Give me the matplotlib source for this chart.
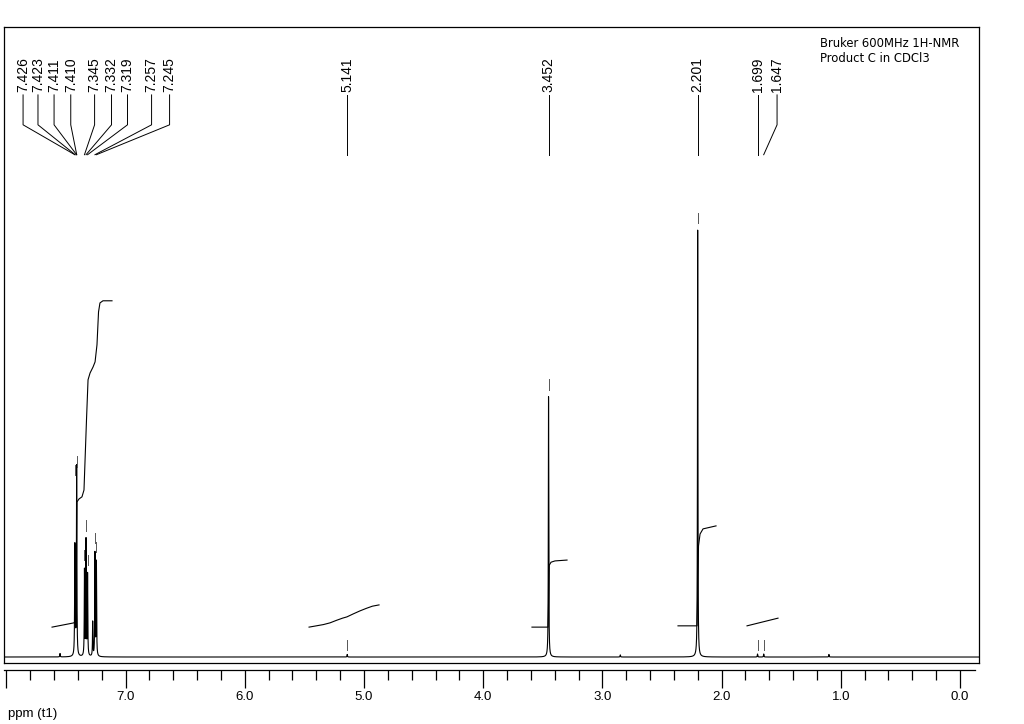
import numpy as np
import matplotlib
matplotlib.use("Agg")
import matplotlib.pyplot as plt

plt.rcParams['font.family'] = ['Liberation Sans', 'DejaVu Sans']

# peak list: position (ppm) and height (2.201 singlet = 100)
peak_ppm = [7.426, 7.423, 7.411, 7.410, 7.345, 7.332, 7.319, 7.276, 7.257, 7.245,
            7.55, 5.141, 3.452, 2.85, 2.201, 1.699, 1.647, 1.10]
peak_height = [20, 18, 25, 22, 20, 27, 19, 8, 24, 22,
               0.8, 0.6, 61, 0.5, 100, 0.7, 0.7, 0.6]
hwhm = 0.002

# picked peaks (labels at the top)
label_ppm = [7.426, 7.423, 7.411, 7.410, 7.345, 7.332, 7.319, 7.257, 7.245,
             5.141, 3.452, 2.201, 1.699, 1.647]
label_text = ['7.426', '7.423', '7.411', '7.410', '7.345', '7.332', '7.319', '7.257', '7.245',
              '5.141', '3.452', '2.201', '1.699', '1.647']
# where each label sits along the ppm axis
label_pos = [7.860, 7.735, 7.600, 7.460, 7.260, 7.118, 6.984, 6.782, 6.631,
             5.141, 3.452, 2.201, 1.699, 1.535]
# marker heights above the picked peaks
marker_ppm = [7.426, 7.411, 7.345, 7.332, 7.319, 7.257, 7.245, 5.141, 3.452, 2.201, 1.699, 1.647]
marker_base = [41, 43, 21, 28, 20, 25, 23, 0, 61, 100, 0, 0]

# integral traces (ppm, level)
int1_ppm = [7.617, 7.433, 7.416, 7.408, 7.391, 7.366, 7.349, 7.328, 7.315, 7.298,
            7.273, 7.256, 7.240, 7.227, 7.215, 7.190, 7.114]
int1_val = [7.0, 8.0, 8.7, 36.3, 37.0, 37.5, 39.1, 55.5, 64.9, 66.5,
            67.9, 69.1, 73.1, 80.8, 82.9, 83.4, 83.4]
int2_ppm = [5.461, 5.40, 5.34, 5.285, 5.23, 5.18, 5.143, 5.09, 5.034, 4.98, 4.93, 4.874]
int2_val = [7.0, 7.3, 7.6, 8.0, 8.6, 9.1, 9.4, 10.1, 10.8, 11.4, 11.9, 12.2]
int3_ppm = [3.591, 3.456, 3.450, 3.446, 3.431, 3.398, 3.297]
int3_val = [7.0, 7.0, 15.0, 21.5, 22.2, 22.5, 22.7]
int4_ppm = [2.366, 2.206, 2.194, 2.181, 2.156, 2.047]
int4_val = [7.3, 7.3, 26.0, 28.8, 30.0, 30.7]
int5_ppm = [1.787, 1.527]
int5_val = [7.3, 9.1]

xlim = (8.020, -0.159)
ylim = (-1.4, 147.5)

ppm = np.linspace(8.1, -0.2, 60000)
spec = np.zeros_like(ppm)
for p, h in zip(peak_ppm, peak_height):
    spec += h / (1 + ((ppm - p) / hwhm) ** 2)

fig = plt.figure(figsize=(10.24, 7.24), dpi=100)
ax = fig.add_axes([4 / 1024, (724 - 663) / 724, 975 / 1024, 636 / 724])
ax.plot(ppm, spec, color='black', lw=0.8)
for xs, ys in [(int1_ppm, int1_val), (int2_ppm, int2_val), (int3_ppm, int3_val),
               (int4_ppm, int4_val), (int5_ppm, int5_val)]:
    ax.plot(xs, ys, color='black', lw=0.8)

for p, b in zip(marker_ppm, marker_base):
    ax.plot([p, p], [b + 1.6, b + 4.0], color='#555555', lw=0.7)

for p, lp, t in zip(label_ppm, label_pos, label_text):
    ax.text(lp, 132.3, t, rotation=90, ha='center', va='bottom', fontsize=10)
    if abs(lp - p) > 0.01:
        ax.plot([lp, lp, p], [131.6, 124.6, 117.6], color='black', lw=0.7)
    else:
        ax.plot([p, p], [131.6, 117.6], color='black', lw=0.7)

fig.text(820 / 1024, (724 - 37) / 724, 'Bruker 600MHz 1H-NMR\nProduct C in CDCl3',
         fontsize=9.3, va='top', ha='left', family='DejaVu Sans', fontstretch='condensed',
         linespacing=1.25)

ax.set_xlim(xlim)
ax.set_ylim(ylim)
ax.set_xticks([])
ax.set_yticks([])
for s in ax.spines.values():
    s.set_linewidth(0.9)

# ppm scale under the box
sc = fig.add_axes([4 / 1024, (724 - 670) / 724, 971 / 1024, 0.0001])
sc.set_xlim(8.020, -0.126)
for s in ['top', 'left', 'right']:
    sc.spines[s].set_visible(False)
sc.spines['bottom'].set_linewidth(0.9)
sc.set_yticks([])
sc.set_xticks([8, 7, 6, 5, 4, 3, 2, 1, 0])
sc.set_xticklabels(['', '7.0', '6.0', '5.0', '4.0', '3.0', '2.0', '1.0', '0.0'])
sc.set_xticks(np.arange(0.2, 8.0, 0.2), minor=True)
sc.tick_params(axis='x', which='major', length=13, width=0.9, labelsize=9.5, pad=2, direction='out')
sc.tick_params(axis='x', which='minor', length=7, width=0.9, direction='out')
fig.text(8 / 1024, 1 - 714 / 724, 'ppm (t1)', fontsize=9.5, va='center', ha='left')

fig.savefig('out.png', dpi=100)
